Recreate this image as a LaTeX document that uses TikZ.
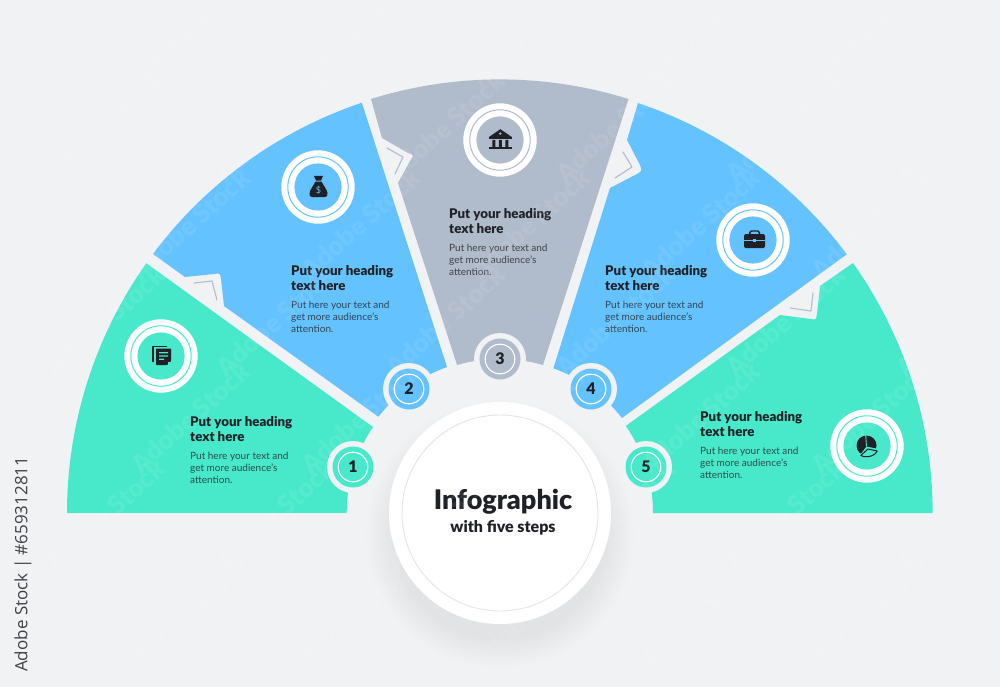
\documentclass[tikz,border=0pt]{standalone}
\usepackage{fontspec}
\setmainfont{Lato}[BoldFont={Lato Black}]
\newfontfamily\sidefont{Open Sans}
\definecolor{bgc}{HTML}{F0F2F4}
\definecolor{teal}{HTML}{48E9CB}
\definecolor{sky}{HTML}{64C3FF}
\definecolor{slate}{HTML}{B0BBCB}
\definecolor{ink}{HTML}{1F2126}
\definecolor{ringgrey}{HTML}{E3E5E8}
\tikzset{
  chev/.style={draw=slate,line width=1.1pt,line join=round,line cap=round},
  headtext/.style={anchor=base west,inner sep=0pt,text=ink,font=\fontsize{13.3}{15}\selectfont\bfseries},
  bodytext/.style={anchor=base west,inner sep=0pt,text=ink,text opacity=.78,font=\fontsize{10}{12}\selectfont},
  numtext/.style={inner sep=0pt,text=ink,font=\fontsize{16}{16}\selectfont\bfseries},
  markw/.style={inner sep=0pt,text=white,text opacity=.08,font=\fontsize{26}{26}\selectfont\bfseries,rotate=42},
}
\newcommand{\stepbadge}[5]{% name, x, y, colour, digit
  \fill[bgc] (#2,#3) circle[radius=26];
  \fill[#4] (#2,#3) circle[radius=20.5];
  \draw[white,line width=1.1pt] (#2,#3) circle[radius=14.8];
  \node[numtext] (#1) at (#2,#3) {#5};
}
\newcommand{\iconring}[3]{% x, y, colour
  \fill[white] (#1,#2) circle[radius=36.7];
  \draw[#3,line width=1pt] (#1,#2) circle[radius=30.2];
  \fill[#3] (#1,#2) circle[radius=23.6];
}
\newcommand{\steptext}[3]{% name, x, baseline y
  \node[headtext] (#1a) at (#2,#3) {Put your heading};
  \node[headtext] (#1b) at (#2,#3+15) {text here};
  \node[bodytext] (#1c) at (#2,#3+33) {Put here your text and};
  \node[bodytext] (#1d) at (#2,#3+45) {get more audience's};
  \node[bodytext] (#1e) at (#2,#3+57) {attention.};
}
\begin{document}
\begin{tikzpicture}[x=1pt,y=-1pt]
\useasboundingbox (0,0) rectangle (1000,687);
\clip (0,0) rectangle (1000,687);
\fill[bgc] (0,0) rectangle (1000,687);
% shadow of the centre disc
\foreach \r in {106,108,...,134}{
  \fill[black,opacity=.0035] (500,534) circle[radius=\r];
}
% sectors
\fill[teal] (67,513) arc[start angle=180,end angle=215.23,radius=433]
  -- (373,427) arc[start angle=214.1,end angle=180,radius=153] -- cycle;
\fill[sky] (153,254) arc[start angle=216.75,end angle=251.4,radius=433]
  -- (447,367) arc[start angle=250.05,end angle=218.1,radius=154]
  -- (224,306) -- (221,279) .. controls (220,273) .. (214,274) -- (185,277) -- cycle;
\fill[slate] (371,99) arc[start angle=252.7,end angle=287.3,radius=433]
  -- (543,365) arc[start angle=286.2,end angle=253.8,radius=154]
  -- (398,183) -- (410,161) .. controls (414,155) .. (408,153) -- (382,138) -- cycle;
\fill[sky] (638,103) arc[start angle=288.6,end angle=323.25,radius=433]
  -- (622,418) arc[start angle=321.9,end angle=289.95,radius=154]
  -- (610,188) -- (637,174) .. controls (642,171) .. (640,165) -- (627,140) -- cycle;
\fill[teal] (853,263) arc[start angle=324.7,end angle=360,radius=433]
  -- (653,513) arc[start angle=360,end angle=325.3,radius=153]
  -- (780,315) -- (811,319) .. controls (816,320) .. (817,314) -- (820,286) -- cycle;
% folded corners
\draw[chev] (194,283) -- (212,281) -- (217,300);
\draw[chev] (387,148) -- (403,157) -- (395,174);
\draw[chev] (623,152) -- (632,167) -- (615,178);
\draw[chev] (813,293) -- (811,311) -- (790,308);
% number badges
\stepbadge{n1}{353}{467}{teal}{1}
\stepbadge{n2}{409}{389}{sky}{2}
\stepbadge{n3}{500}{359}{slate}{3}
\stepbadge{n4}{591}{389}{sky}{4}
\stepbadge{n5}{646}{467}{teal}{5}
% icon rings
\iconring{161}{356}{teal}
\iconring{318}{187}{sky}
\iconring{500}{140}{slate}
\iconring{753}{240}{sky}
\iconring{867}{446}{teal}
% icon 1: documents
\fill[ink,rounded corners=.6pt] (152,346) rectangle (167,362);
\fill[teal] (154,347.4) rectangle (170,364);
\fill[ink,rounded corners=.6pt] (156,348.5) -- (171,348.5) -- (171,361) -- (167,365) -- (156,365) -- cycle;
\fill[teal] (159,352) rectangle (168,353.3) (159,355.3) rectangle (168,356.6) (159,358.6) rectangle (164,359.9);
\fill[teal] (168,362) -- (171,362) -- (168,365) -- cycle;
% icon 2: money bag
\fill[ink] (314,176) -- (323,176) -- (321,180.6) -- (316,180.6) -- cycle;
\fill[ink] (315.5,181.6) -- (321.5,181.6) .. controls (324,186) and (327,190) .. (327.5,193)
  .. controls (328,196) and (326.5,197) .. (325,197) -- (312,197)
  .. controls (310.5,197) and (309,196) .. (309.5,193) .. controls (310,190) and (313,186) .. (315.5,181.6) -- cycle;
\node[inner sep=0pt,text=sky,font=\fontsize{9}{9}\selectfont] (dollar) at (318.5,190) {\$};
% icon 3: bank
\fill[ink] (489,137) -- (500.3,129.2) -- (511.8,137) -- (511.8,139) -- (489,139) -- cycle;
\fill[slate] (500.3,133.6) circle[radius=1.3];
\fill[ink] (492.4,140) rectangle (495.4,147) (498.8,140) rectangle (501.8,147) (505.4,140) rectangle (508.4,147);
\fill[ink] (489,147.4) rectangle (512,149.4);
% icon 4: briefcase
\draw[ink,line width=1.4pt,rounded corners=1.5pt] (749.8,235) -- (749.8,231) -- (759.4,231) -- (759.4,235);
\fill[ink,rounded corners=1.6pt] (744,234) rectangle (765,248.2);
\fill[sky] (744,239.6) rectangle (765,240.6);
\fill[sky] (753,238.6) rectangle (756,242);
% icon 5: pie chart
\fill[ink] (866.5,445.5) circle[radius=10];
\fill[teal] (866.5,446.5) -- ++(12,2.5) -- ++(0,10) -- ++(-20,0) -- (858.5,457) -- cycle;
\draw[teal,line width=.9pt] (866.5,446.5) -- (865.6,434);
\draw[ink,line width=1pt,line join=round] (868,449) -- (877.2,451) .. controls (875.5,455) and (870,457.6) .. (863.6,456.6) -- (860.8,455.4) -- cycle;
% centre disc
\fill[white] (500,513) circle[radius=111];
\draw[ringgrey,line width=.9pt] (500,513) circle[radius=98];
\node[inner sep=0pt,text=ink,font=\fontsize{27}{27}\selectfont\bfseries] (title) at (503,502) {Infographic};
\node[inner sep=0pt,text=ink,font=\fontsize{16}{16}\selectfont\bfseries] (subtitle) at (503,528) {with five steps};
% step texts
\steptext{t1}{190}{426}
\steptext{t2}{291}{275}
\steptext{t3}{449}{218}
\steptext{t4}{605}{275}
\steptext{t5}{700}{421}
% stock marks
\foreach \i in {-2,...,8}{
  \foreach \j in {0,...,6}{
    \pgfmathsetmacro{\mx}{20+\i*170+\j*85}
    \pgfmathsetmacro{\my}{30+\j*97}
    \pgfmathparse{(\mx>40 && \mx<960) ? 1 : 0}
    \ifnum\pgfmathresult=1
      \node[markw] at (\mx,\my) {Adobe Stock};
    \fi
  }
}
\node[inner sep=0pt,text=ink!85,rotate=90,anchor=west,font=\fontsize{17}{17}\selectfont\sidefont] (sidelabel) at (23,672) {Adobe Stock | \#659312811};
\end{tikzpicture}
\end{document}
